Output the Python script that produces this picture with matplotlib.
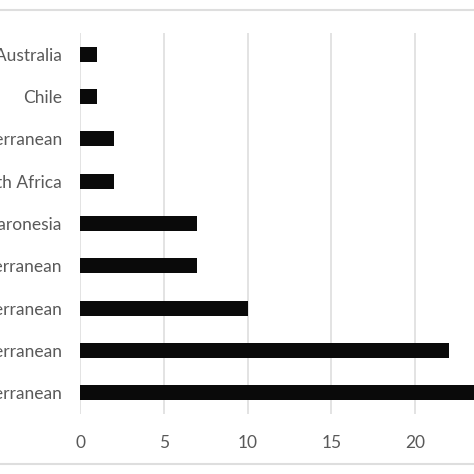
import matplotlib
matplotlib.use("Agg")
from matplotlib import pyplot as plt
from matplotlib.lines import Line2D

# data (top to bottom as shown)
regions = ['SW Australia', 'Chile', 'East Mediterranean', 'South Africa', 'Macaronesia',
           'North Mediterranean', 'South Mediterranean', 'Central Mediterranean', 'West Mediterranean']
counts = [1, 1, 2, 2, 7, 7, 10, 22, 24]
xticks = [0, 5, 10, 15, 20]

plt.rcParams['font.family'] = ['Lato', 'DejaVu Sans']

fig = plt.figure(figsize=(4.74, 4.74), dpi=100)
# axes extends past the right edge, like the cropped original
ax = fig.add_axes([80/474, 60/474, 502.5/474, 381/474])

ypos = list(range(len(regions)))
ax.barh(ypos, counts, height=0.36, color='#0a0a0a', zorder=3)
ax.set_ylim(len(regions) - 0.5, -0.5)
ax.set_xlim(0, 30)
ax.set_yticks(ypos)
ax.set_yticklabels(regions, fontsize=12.5, color='#595959')
ax.set_xticks(xticks)
ax.set_xticklabels([str(t) for t in xticks], fontsize=12.5, color='#595959')
ax.tick_params(axis='both', length=0)
ax.tick_params(axis='y', pad=13)
ax.tick_params(axis='x', pad=15)
ax.grid(axis='x', color='#dedede', linewidth=1.2, zorder=0)
for s in ax.spines.values():
    s.set_visible(False)

# chart frame lines
fig.add_artist(Line2D([0, 1], [1 - 10/474, 1 - 10/474], color='#dedede', linewidth=1.5))
fig.add_artist(Line2D([0, 1], [1 - 464/474, 1 - 464/474], color='#dedede', linewidth=1.5))

fig.savefig('out.png', dpi=100)
